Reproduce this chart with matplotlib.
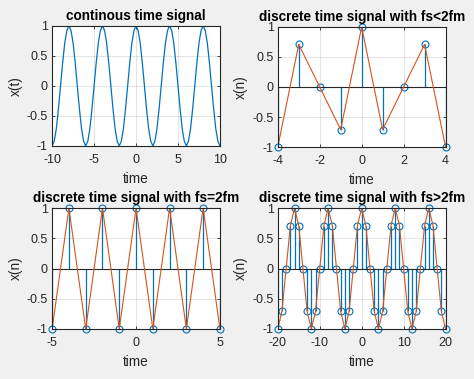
import numpy as np
import matplotlib
matplotlib.use('Agg')
import matplotlib.pyplot as plt
from matplotlib import rcParams

rcParams['font.family'] = ['Liberation Sans', 'DejaVu Sans']
rcParams['font.size'] = 9

# sinal continuo, lido a cada 0.25
t_cont = [-10 + 0.25 * i for i in range(81)]
x_cont = [-1, -0.92, -0.71, -0.38, 0, 0.38, 0.71, 0.92, 1, 0.92, 0.71, 0.38, 0, -0.38, -0.71, -0.92,
          -1, -0.92, -0.71, -0.38, 0, 0.38, 0.71, 0.92, 1, 0.92, 0.71, 0.38, 0, -0.38, -0.71, -0.92,
          -1, -0.92, -0.71, -0.38, 0, 0.38, 0.71, 0.92, 1, 0.92, 0.71, 0.38, 0, -0.38, -0.71, -0.92,
          -1, -0.92, -0.71, -0.38, 0, 0.38, 0.71, 0.92, 1, 0.92, 0.71, 0.38, 0, -0.38, -0.71, -0.92,
          -1, -0.92, -0.71, -0.38, 0, 0.38, 0.71, 0.92, 1, 0.92, 0.71, 0.38, 0, -0.38, -0.71, -0.92,
          -1]

# fs < 2fm
n_low = [-4, -3, -2, -1, 0, 1, 2, 3, 4]
x_low = [-1, 0.71, 0, -0.71, 1, -0.71, 0, 0.71, -1]

# fs = 2fm
n_eq = [-5, -4, -3, -2, -1, 0, 1, 2, 3, 4, 5]
x_eq = [-1, 1, -1, 1, -1, 1, -1, 1, -1, 1, -1]

# fs > 2fm
n_high = list(range(-20, 21))
x_high = [-1, -0.71, 0, 0.71, 1, 0.71, 0, -0.71,
          -1, -0.71, 0, 0.71, 1, 0.71, 0, -0.71,
          -1, -0.71, 0, 0.71, 1, 0.71, 0, -0.71,
          -1, -0.71, 0, 0.71, 1, 0.71, 0, -0.71,
          -1, -0.71, 0, 0.71, 1, 0.71, 0, -0.71,
          -1]

AZUL = '#0072BD'
LARANJA = '#D95319'
BORDA = '#262626'


def estilo(ax, xlim, xticks, titulo, ylabel):
    ax.set_xlim(*xlim)
    ax.set_ylim(-1, 1)
    ax.set_xticks(xticks)
    ax.set_yticks([-1, -0.5, 0, 0.5, 1])
    ax.set_yticklabels(['-1', '-0.5', '0', '0.5', '1'])
    ax.set_xticklabels([str(v) for v in xticks])
    ax.grid(True, color=BORDA, alpha=0.15, linewidth=0.6)
    ax.set_axisbelow(True)
    for s in ax.spines.values():
        s.set_color(BORDA)
        s.set_linewidth(0.8)
    ax.tick_params(direction='in', length=2.5, width=0.6, color=BORDA,
                   top=True, right=True, labelsize=9, labelcolor=BORDA)
    ax.tick_params(axis='x', pad=6)
    ax.tick_params(axis='y', pad=3)
    ax.set_title(titulo, fontsize=9.8, fontweight='bold', pad=4.5)
    ax.set_xlabel('time', fontsize=9.8, color=BORDA, labelpad=4)
    ax.set_ylabel(ylabel, fontsize=9.8, color=BORDA, labelpad=3)
    ax.set_facecolor('white')


def discreto(ax, n, x):
    ml, sl, bl = ax.stem(n, x, basefmt='-')
    ml.set_color(AZUL)
    ml.set_marker('o')
    ml.set_markerfacecolor('none')
    ml.set_markersize(5)
    ml.set_markeredgewidth(0.8)
    ml.set_clip_on(False)
    sl.set_color(AZUL)
    sl.set_linewidth(0.9)
    bl.set_color(BORDA)
    bl.set_linewidth(0.8)
    ax.plot(n, x, color=LARANJA, linewidth=0.8)


fig = plt.figure(figsize=(4.74, 3.79), dpi=100)
fig.patch.set_facecolor('#F0F0F0')

ax1 = fig.add_axes([0.110, 0.615, 0.354, 0.317])
ax1.plot(t_cont, x_cont, color=AZUL, linewidth=0.9)
estilo(ax1, (-10, 10), [-10, -5, 0, 5, 10], 'continous time signal', 'x(t)')

ax2 = fig.add_axes([0.586, 0.612, 0.354, 0.317])
discreto(ax2, n_low, x_low)
estilo(ax2, (-4, 4), [-4, -2, 0, 2, 4], 'discrete time signal with fs<2fm', 'x(n)')

ax3 = fig.add_axes([0.110, 0.132, 0.354, 0.319])
discreto(ax3, n_eq, x_eq)
estilo(ax3, (-5, 5), [-5, 0, 5], 'discrete time signal with fs=2fm', 'x(n)')

ax4 = fig.add_axes([0.586, 0.132, 0.354, 0.319])
discreto(ax4, n_high, x_high)
estilo(ax4, (-20, 20), [-20, -10, 0, 10, 20], 'discrete time signal with fs>2fm', 'x(n)')

plt.savefig('out.png', dpi=100, facecolor=fig.get_facecolor())
